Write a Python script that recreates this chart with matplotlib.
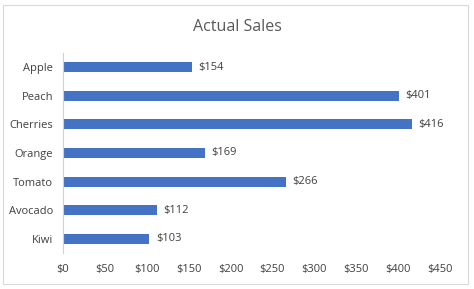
import matplotlib.pyplot as plt
from matplotlib.patches import Rectangle

categories = ["Apple", "Peach", "Cherries", "Orange", "Tomato", "Avocado", "Kiwi"]
values = [154, 401, 416, 169, 266, 112, 103]
ticks = [0, 50, 100, 150, 200, 250, 300, 350, 400, 450]
tick_labels = ["$0", "$50", "$100", "$150", "$200", "$250", "$300", "$350", "$400", "$450"]

plt.rcParams['font.family'] = ['Open Sans', 'DejaVu Sans']
fig = plt.figure(figsize=(4.74, 2.89), dpi=100)
ax = fig.add_axes([63/474, 1 - 253/289, (440-63)/474, (253-53)/289])

y = list(range(len(categories)))
ax.barh(y, values, height=0.35, color="#4472C4")
for yi, v in zip(y, values):
    ax.text(v + 8, yi, f"${v}", va="center", ha="left", fontsize=8, color="#404040")
ax.set_yticks(y)
ax.set_yticklabels(categories, fontsize=8, color="#404040")
ax.set_ylim(len(categories) - 0.5, -0.5)
ax.set_xlim(0, 450)
ax.set_xticks(ticks)
ax.set_xticklabels(tick_labels, fontsize=8, color="#404040")
ax.tick_params(axis="y", length=0, pad=7)
ax.tick_params(axis="x", length=0, pad=8)
for s in ["top", "right", "bottom"]:
    ax.spines[s].set_visible(False)
ax.spines["left"].set_color("#D0D0D0")
ax.spines["left"].set_linewidth(0.8)

fig.text(0.5, 1 - 27/289, "Actual Sales", ha="center", va="center", fontsize=11.5, color="#595959")
fig.patches.append(Rectangle((3/474, 5/289), 1 - 9/474, 1 - 10/289, transform=fig.transFigure,
                             fill=False, edgecolor="#D9D9D9", linewidth=0.8))
fig.savefig("out.png", dpi=100)
